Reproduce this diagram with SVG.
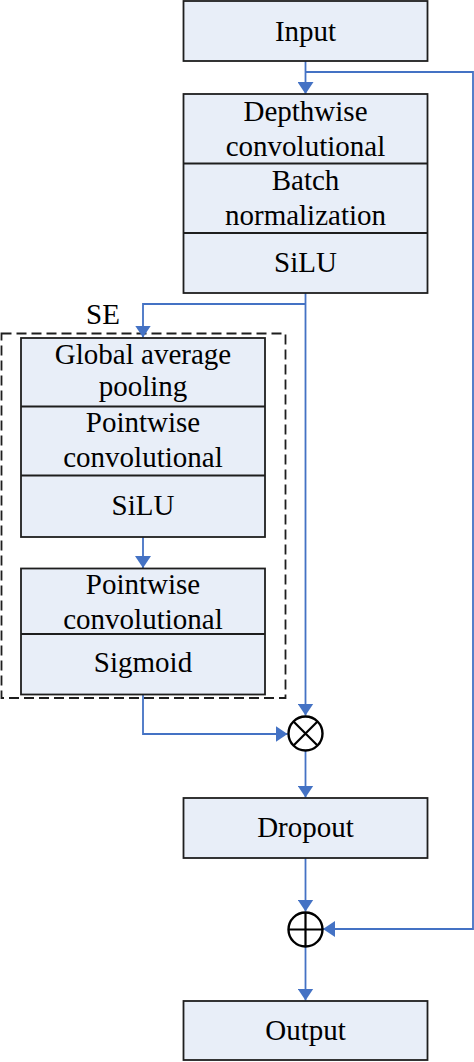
<svg xmlns="http://www.w3.org/2000/svg" width="474" height="1062" viewBox="0 0 474 1062">
<defs>
<style>
.box{fill:#E8EEF8;stroke:#1e1e1e;stroke-width:1.8}
.div{stroke:#1e1e1e;stroke-width:1.8}
.t{font-size:29px;fill:#000;text-anchor:middle}
.c{fill:none;stroke:#4472C4;stroke-width:1.8}
.op{fill:#fff;stroke:#000;stroke-width:2.4}
</style>
<marker id="ah" viewBox="0 0 12 16" refX="12" refY="8" markerWidth="12" markerHeight="16" markerUnits="userSpaceOnUse" orient="auto">
<path d="M0,0 L12,8 L0,16 Z" fill="#4472C4"/>
</marker>
</defs>
<rect width="474" height="1062" fill="#fff"/>

<g id="se-container">
<rect x="1.5" y="333.5" width="284" height="364.5" fill="none" stroke="#1e1e1e" stroke-width="1.8" stroke-dasharray="10,5"/>
<text class="t" x="103" y="324" font-family="Liberation Serif, DejaVu Serif, serif">SE</text>
</g>

<g id="connectors">
<path class="c" d="M305.5,61 V94" marker-end="url(#ah)"/>
<path class="c" d="M305.5,72 H473 V929 H323" marker-end="url(#ah)"/>
<path class="c" d="M305.5,293 V715.5" marker-end="url(#ah)"/>
<path class="c" d="M305.5,304 H143 V337.5" marker-end="url(#ah)"/>
<path class="c" d="M143,537 V568" marker-end="url(#ah)"/>
<path class="c" d="M143,694 V734 H287.5" marker-end="url(#ah)"/>
<path class="c" d="M305.5,751 V797.5" marker-end="url(#ah)"/>
<path class="c" d="M305.5,858 V911.5" marker-end="url(#ah)"/>
<path class="c" d="M305.5,947 V1000.5" marker-end="url(#ah)"/>
</g>

<g font-family="Liberation Serif, DejaVu Serif, serif">
<g id="input">
<rect class="box" x="183.5" y="1" width="244" height="60"/>
<text class="t" x="305.5" y="41">Input</text>
</g>

<g id="depthwise-block">
<rect class="box" x="183.5" y="94" width="244" height="199"/>
<line class="div" x1="183.5" y1="163.5" x2="427.5" y2="163.5"/>
<line class="div" x1="183.5" y1="233" x2="427.5" y2="233"/>
<text class="t" x="305.5" y="121">Depthwise</text>
<text class="t" x="305.5" y="156">convolutional</text>
<text class="t" x="305.5" y="190">Batch</text>
<text class="t" x="305.5" y="225">normalization</text>
<text class="t" x="305.5" y="272">SiLU</text>
</g>

<g id="se-block1">
<rect class="box" x="21" y="338" width="244" height="199"/>
<line class="div" x1="21" y1="406.5" x2="265" y2="406.5"/>
<line class="div" x1="21" y1="475.5" x2="265" y2="475.5"/>
<text class="t" x="143" y="364">Global average</text>
<text class="t" x="143" y="396">pooling</text>
<text class="t" x="143" y="432">Pointwise</text>
<text class="t" x="143" y="467">convolutional</text>
<text class="t" x="143" y="515">SiLU</text>
</g>

<g id="se-block2">
<rect class="box" x="21" y="568.5" width="244" height="126"/>
<line class="div" x1="21" y1="634" x2="265" y2="634"/>
<text class="t" x="143" y="593.5">Pointwise</text>
<text class="t" x="143" y="628.5">convolutional</text>
<text class="t" x="143" y="672">Sigmoid</text>
</g>

<g id="dropout">
<rect class="box" x="183.5" y="798" width="244" height="60"/>
<text class="t" x="305.5" y="837">Dropout</text>
</g>

<g id="output">
<rect class="box" x="183.5" y="1001" width="244" height="59"/>
<text class="t" x="305.5" y="1040">Output</text>
</g>
</g>

<g id="multiply">
<circle class="op" cx="305.5" cy="733.5" r="17"/>
<path d="M293.5,721.5 L317.5,745.5 M317.5,721.5 L293.5,745.5" stroke="#000" stroke-width="2.2"/>
</g>

<g id="add">
<circle class="op" cx="305.5" cy="929.5" r="17"/>
<path d="M288.5,929.5 H322.5 M305.5,912.5 V946.5" stroke="#000" stroke-width="2.2"/>
</g>
</svg>
